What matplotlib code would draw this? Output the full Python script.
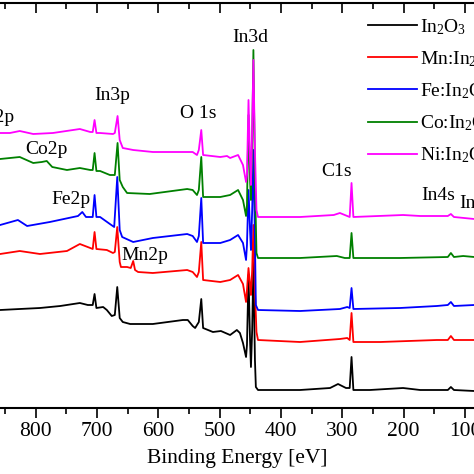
import matplotlib
matplotlib.use("Agg")
import matplotlib.pyplot as plt
from matplotlib.ticker import MultipleLocator

plt.rcParams['font.family'] = ['Liberation Serif', 'DejaVu Serif']
plt.rcParams['mathtext.fontset'] = 'custom'
plt.rcParams['mathtext.rm'] = 'Liberation Serif'
plt.rcParams['mathtext.it'] = 'Liberation Serif:italic'
plt.rcParams['mathtext.default'] = 'regular'

# ---- data (binding energy eV, intensity a.u. with vertical offsets) ----
e_in2o3 = [870, 858, 826, 793, 760, 728, 715, 707, 704, 701, 690, 684, 676, 671, 667, 663, 658, 646, 609,
           560, 552, 544, 540, 534, 530, 527, 511, 498, 483, 472, 467, 462, 457, 455.5, 453, 450.5, 449,
           447, 445, 442.5, 441, 437.5, 369, 320, 307, 294, 288, 285, 282, 255, 201, 173, 128, 123, 118, 85, 50]
i_in2o3 = [110, 110, 111, 112, 114, 117, 115, 115, 126, 112, 113, 110, 104, 105, 133, 102, 98, 96, 96,
           100, 100, 94, 92, 98, 121, 92, 88, 89, 85, 90, 87, 77, 63, 75, 145, 80, 53,
           90, 158, 60, 33, 30, 30, 32, 36, 32, 32, 63, 30, 30, 32, 30, 30, 33, 30, 29, 29]

e_mn = [870, 858, 826, 793, 749, 728, 711, 707, 704, 701, 684, 674, 671, 667, 663, 661, 651, 645, 641,
        638, 633, 609, 553, 544, 537, 534, 530, 527, 499, 483, 470, 462, 457, 455.5, 453, 450.5, 449,
        447, 445, 442.5, 440, 437.5, 369, 304, 292, 288, 285, 282, 238, 146, 128, 123, 118, 85, 50]
i_mn = [166, 166, 169, 166, 169, 176, 172, 171, 188, 171, 170, 167, 168, 193, 158, 153, 153, 152, 159,
        150, 148, 147, 150, 148, 143, 148, 178, 140, 138, 140, 145, 136, 118, 130, 152, 135, 125,
        150, 195, 130, 88, 80, 78, 81, 82, 80, 107, 78, 78, 80, 80, 84, 80, 80, 80]

e_fe = [870, 858, 829, 814, 777, 731, 724, 718, 711, 707, 704, 701, 695, 679, 672, 667, 663, 659, 641,
        609, 553, 544, 537, 534, 530, 527, 499, 483, 470, 462, 457, 455.5, 453, 450.5, 449, 447, 445,
        442.5, 441, 437.5, 369, 304, 292, 288, 285, 282, 206, 146, 128, 123, 118, 85, 50]
i_fe = [195, 195, 200, 194, 198, 204, 208, 203, 203, 203, 225, 203, 203, 196, 193, 243, 190, 183, 178,
        182, 186, 184, 178, 184, 222, 177, 177, 180, 185, 177, 160, 175, 230, 190, 170, 210, 270,
        180, 115, 110, 109, 111, 113, 112, 132, 111, 112, 114, 115, 118, 114, 115, 115]

e_co = [870, 858, 826, 804, 790, 782, 773, 749, 728, 711, 707, 704, 701, 695, 679, 671, 666.5, 663, 658,
        651, 614, 553, 544, 537, 534, 530, 527, 499, 483, 470, 462, 457, 455.5, 453, 450.5, 449, 447,
        445, 442.5, 440, 437.5, 369, 309, 296, 288, 285, 282, 206, 128, 123, 118, 103, 85, 50]
i_co = [261, 261, 263, 257, 258, 259, 253, 250, 252, 250, 250, 267, 249, 249, 245, 245, 277, 240, 233,
        227, 226, 231, 230, 225, 230, 263, 223, 223, 225, 230, 220, 204, 215, 305, 240, 220, 280,
        370, 240, 167, 162, 162, 164, 162, 162, 187, 162, 162, 163, 167, 163, 164, 163, 163]

e_ni = [870, 858, 842, 826, 804, 772, 728, 711, 707, 704, 701, 695, 674, 671, 666.5, 663, 658, 641, 609,
        544, 537, 534, 530, 527, 499, 488, 483, 470, 462, 457, 455.5, 453, 450.5, 449, 447, 445, 442.5,
        440, 437.5, 369, 314, 304, 292, 288, 285, 282, 201, 173, 128, 123, 118, 85, 50]
i_ni = [287, 287, 287, 289, 286, 287, 291, 288, 288, 300, 287, 287, 286, 287, 304, 280, 272, 270, 268,
        268, 265, 270, 290, 265, 263, 264, 262, 265, 255, 238, 245, 320, 260, 235, 290, 360, 270,
        210, 203, 203, 205, 207, 204, 203, 237, 203, 205, 204, 204, 206, 203, 201, 201]

series = [
    (e_in2o3, i_in2o3, '#000000', r'In$_2$O$_3$'),
    (e_mn, i_mn, '#ff0000', r'Mn:In$_2$O$_3$'),
    (e_fe, i_fe, '#0000ff', r'Fe:In$_2$O$_3$'),
    (e_co, i_co, '#008000', r'Co:In$_2$O$_3$'),
    (e_ni, i_ni, '#ff00ff', r'Ni:In$_2$O$_3$'),
]

peak_labels = ['In3d', 'In3p', 'O 1s', 'Co2p', 'Fe2p', 'Mn2p', 'Ni2p', 'C1s', 'In4s', 'In4d']
peak_label_e = [450, 676, 535, 782, 742, 622, 834, 310, 144, 110]
peak_label_i = [383, 325, 307, 270, 220, 165, 303, 248, 225, 217]
peak_label_ha = ['center'] * 6 + ['right', 'center', 'center', 'left']

W = 474
fig = plt.figure(figsize=(4.74, 4.74), dpi=100)
ax = fig.add_axes([-20 / W, (W - 408) / W, 514 / W, 405 / W])

for e, i, c, lab in series:
    ax.plot(e, i, color=c, lw=1.3, label=lab)

ax.set_xlim(890.8, 52.7)
ax.set_ylim(12, 417)

ax.xaxis.set_major_locator(MultipleLocator(100))
ax.xaxis.set_minor_locator(MultipleLocator(50))
ax.tick_params(axis='x', which='both', bottom=True, top=True, direction='out', labelsize=15.5,
               width=1.2, pad=3)
ax.tick_params(axis='x', which='major', length=7)
ax.tick_params(axis='x', which='minor', length=4)
ax.set_yticks([])
for s in ax.spines.values():
    s.set_linewidth(1.5)

# top ticks point inward
for t in ax.xaxis.get_major_ticks() + ax.xaxis.get_minor_ticks():
    t.tick2line.set_marker(3)

ax.set_xlabel('Binding Energy [eV]', fontsize=15.5, labelpad=6)

for lab, e, i, ha in zip(peak_labels, peak_label_e, peak_label_i, peak_label_ha):
    ax.text(e, i, lab, fontsize=14, ha=ha, va='center')

fig.legend(loc='upper left', bbox_to_anchor=(368 / W, 1 - 17 / W), frameon=False, fontsize=14,
           handlelength=2.5, handletextpad=0.15, labelspacing=0.64, borderpad=0, borderaxespad=0)

fig.savefig('out.png', dpi=100)
